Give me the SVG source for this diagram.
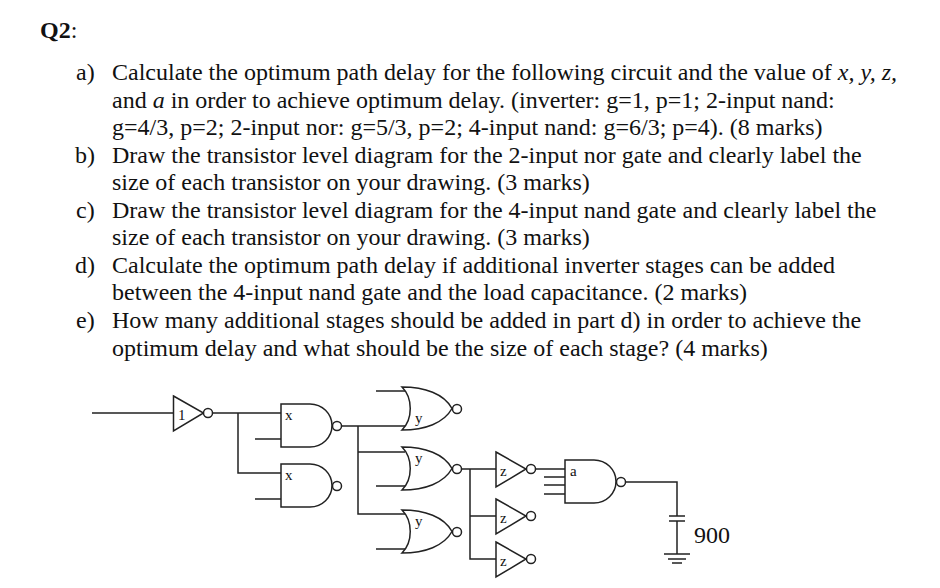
<svg xmlns="http://www.w3.org/2000/svg" width="940" height="588" viewBox="0 0 940 588">
<defs>
<path id="nand" d="M0 0H29A22 21.500 0 0 1 29 43H0Z"/>
<path id="nor" d="M0 0C23 0 42 7 50 21.500C42 36 23 43 0 43C11 32 11 11 0 0Z"/>
<path id="inv" d="M0 0L30 17L0 35Z"/>
</defs>
<style>
text{font-family:"Liberation Serif","Times New Roman",serif;fill:#111}
.t{font-size:24px}
.g{font-size:15px}
.s{fill:#fff;stroke:#222;stroke-width:1.500}
.w{fill:none;stroke:#222;stroke-width:1.500}
</style>
<rect width="940" height="588" fill="#fff"/>
<g id="question">
<text class="t" x="40" y="38" font-weight="bold">Q2<tspan font-weight="normal">:</tspan></text>
<text class="t" x="76" y="80">a)</text>
<text class="t" x="112" y="80">Calculate the optimum path delay for the following circuit and the value of <tspan font-style="italic">x, y, z,</tspan></text>
<text class="t" x="112" y="108">and <tspan font-style="italic">a</tspan> in order to achieve optimum delay. (inverter: g=1, p=1; 2-input nand:</text>
<text class="t" x="112" y="135">g=4/3, p=2; 2-input nor: g=5/3, p=2; 4-input nand: g=6/3; p=4). (8 marks)</text>
<text class="t" x="75" y="163">b)</text>
<text class="t" x="112" y="163">Draw the transistor level diagram for the 2-input nor gate and clearly label the</text>
<text class="t" x="112" y="190">size of each transistor on your drawing. (3 marks)</text>
<text class="t" x="76" y="218">c)</text>
<text class="t" x="112" y="218">Draw the transistor level diagram for the 4-input nand gate and clearly label the</text>
<text class="t" x="112" y="245">size of each transistor on your drawing. (3 marks)</text>
<text class="t" x="75" y="273">d)</text>
<text class="t" x="112" y="273">Calculate the optimum path delay if additional inverter stages can be added</text>
<text class="t" x="112" y="300">between the 4-input nand gate and the load capacitance. (2 marks)</text>
<text class="t" x="76" y="328">e)</text>
<text class="t" x="112" y="328">How many additional stages should be added in part d) in order to achieve the</text>
<text class="t" x="112" y="356">optimum delay and what should be the size of each stage? (4 marks)</text>
</g>
<g id="connectors" class="w">
<path d="M92 413H173M212 413H281M238 413V473H281M255 439H281M255 499H281"/>
<path d="M341 426H407M358 426V514H405M358 452H405M376 391H405M376 486H405M376 549H405"/>
<path d="M461 469H496M470 469V559H496M470 516H496"/>
<path d="M535 469H565M544 477H565M544 485H565M544 494H565"/>
<path d="M626 482H677V516M677 521V554"/>
</g>
<g id="inv1"><use href="#inv" class="s" x="173.500" y="396"/><circle class="s" cx="208" cy="413" r="4.500"/><text class="g" x="178" y="420">1</text></g>
<g id="nand1"><use href="#nand" class="s" x="281" y="404"/><circle class="s" cx="337" cy="426" r="4.500"/><text class="g" x="285" y="420">x</text></g>
<g id="nand2"><use href="#nand" class="s" x="281" y="464"/><circle class="s" cx="337" cy="486" r="4.500"/><text class="g" x="285" y="480">x</text></g>
<g id="nor1"><use href="#nor" class="s" x="402" y="387"/><circle class="s" cx="457" cy="409" r="4.500"/><text class="g" x="415" y="423">y</text></g>
<g id="nor2"><use href="#nor" class="s" x="402" y="447"/><circle class="s" cx="457" cy="469" r="4.500"/><text class="g" x="415" y="463">y</text></g>
<g id="nor3"><use href="#nor" class="s" x="402" y="510"/><circle class="s" cx="457" cy="532" r="4.500"/><text class="g" x="415" y="526">y</text></g>
<g id="inv2"><use href="#inv" class="s" x="496" y="452"/><circle class="s" cx="531" cy="469" r="4.500"/><text class="g" x="500" y="476">z</text></g>
<g id="inv3"><use href="#inv" class="s" x="496" y="499"/><circle class="s" cx="531" cy="516" r="4.500"/><text class="g" x="500" y="523">z</text></g>
<g id="inv4"><use href="#inv" class="s" x="496" y="542"/><circle class="s" cx="531" cy="559" r="4.500"/><text class="g" x="500" y="566">z</text></g>
<g id="nand4"><use href="#nand" class="s" x="565" y="460"/><circle class="s" cx="621" cy="482" r="4.500"/><text class="g" x="570" y="476">a</text></g>
<g id="load"><path class="w" d="M669 516H685M669 521H685M664 554H690M668 559H686M672 563H682"/><text class="t" x="694" y="543">900</text></g>
</svg>
